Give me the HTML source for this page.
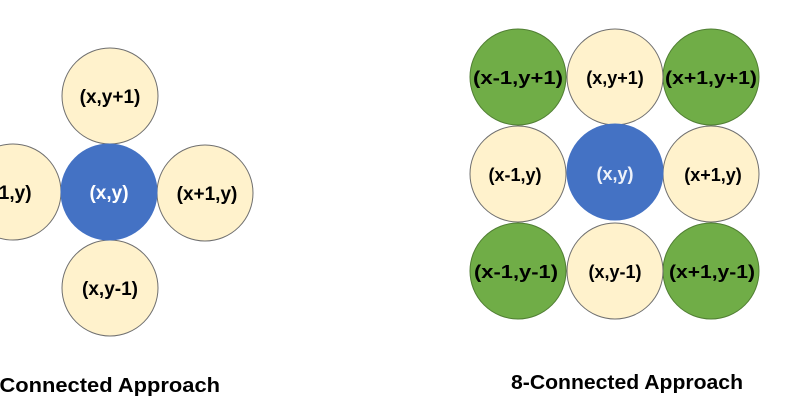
<!DOCTYPE html>
<html><head><meta charset="utf-8"><style>
html,body{margin:0;padding:0;background:#fff;width:796px;height:418px;overflow:hidden}
svg text{font-family:"Liberation Sans",Arial,sans-serif;font-weight:bold;text-anchor:middle}
</style></head><body>
<svg width="796" height="418" viewBox="0 0 796 418" xmlns="http://www.w3.org/2000/svg">
<g stroke="#6f6f6f" stroke-width="1">
<circle cx="110" cy="96" r="48" fill="#FFF2CC"/>
<circle cx="13" cy="192" r="48" fill="#FFF2CC"/>
<circle cx="205" cy="193" r="48" fill="#FFF2CC"/>
<circle cx="110" cy="288" r="48" fill="#FFF2CC"/>
<circle cx="109" cy="192" r="48" fill="#4472C4" stroke="#4472C4"/>
</g>
<g font-size="19" fill="#000">
<text x="110" y="103">(x,y+1)</text>
<text x="12" y="199">-1,y)</text>
<text x="207" y="200">(x+1,y)</text>
<text x="110" y="295">(x,y-1)</text>
<text x="109" y="199" fill="#fff">(x,y)</text>
</g>
<text x="100" y="392" font-size="20" textLength="240" lengthAdjust="spacingAndGlyphs">4-Connected Approach</text>

<g stroke-width="1">
<circle cx="518" cy="77" r="48" fill="#70AD47" stroke="#507e33"/>
<circle cx="711" cy="77" r="48" fill="#70AD47" stroke="#507e33"/>
<circle cx="518" cy="271" r="48" fill="#70AD47" stroke="#507e33"/>
<circle cx="711" cy="271" r="48" fill="#70AD47" stroke="#507e33"/>
<circle cx="615" cy="77" r="48" fill="#FFF2CC" stroke="#6f6f6f"/>
<circle cx="518" cy="174" r="48" fill="#FFF2CC" stroke="#6f6f6f"/>
<circle cx="711" cy="174" r="48" fill="#FFF2CC" stroke="#6f6f6f"/>
<circle cx="615" cy="271" r="48" fill="#FFF2CC" stroke="#6f6f6f"/>
<circle cx="615" cy="172" r="48" fill="#4472C4" stroke="#4472C4"/>
</g>
<g font-size="18" fill="#000">
<text x="518" y="84" textLength="90" lengthAdjust="spacingAndGlyphs">(x-1,y+1)</text>
<text x="615" y="84">(x,y+1)</text>
<text x="711" y="84" textLength="92" lengthAdjust="spacingAndGlyphs">(x+1,y+1)</text>
<text x="515" y="181">(x-1,y)</text>
<text x="713" y="181">(x+1,y)</text>
<text x="516" y="278" textLength="84" lengthAdjust="spacingAndGlyphs">(x-1,y-1)</text>
<text x="615" y="278">(x,y-1)</text>
<text x="712" y="278" textLength="86" lengthAdjust="spacingAndGlyphs">(x+1,y-1)</text>
<text x="615" y="180" fill="#eef2fa" font-weight="normal">(x,y)</text>
</g>
<text x="627" y="389" font-size="20" textLength="232" lengthAdjust="spacingAndGlyphs">8-Connected Approach</text>
</svg>
</body></html>
